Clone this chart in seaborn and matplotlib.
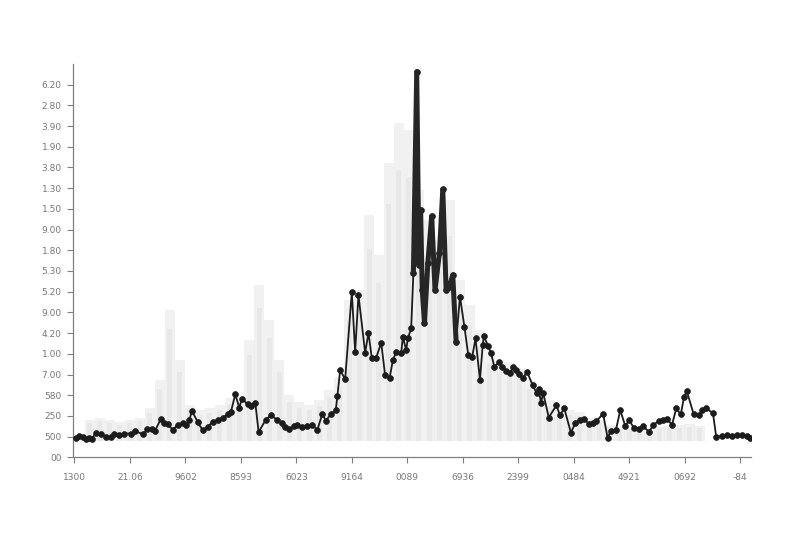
import matplotlib
matplotlib.use("Agg")
import matplotlib.pyplot as plt
import seaborn as sns
import numpy as np
import pandas as pd

# ---- data ----
line_x = [0.03, 0.09, 0.15, 0.21, 0.27, 0.31, 0.39, 0.48, 0.57, 0.66, 0.72, 0.81, 0.90, 1.02, 1.10,
          1.24, 1.31, 1.39, 1.45, 1.56, 1.62, 1.68, 1.77, 1.86, 1.95, 2.01, 2.07, 2.12, 2.22, 2.31,
          2.40, 2.49, 2.58, 2.67, 2.76, 2.82, 2.90, 2.97, 3.02, 3.12, 3.18, 3.26, 3.32, 3.45, 3.54,
          3.65, 3.74, 3.80, 3.86, 3.96, 4.02, 4.11, 4.20, 4.28, 4.38, 4.47, 4.53, 4.63, 4.71, 4.74,
          4.79, 4.88, 5.00, 5.06, 5.12, 5.24, 5.30, 5.36, 5.44, 5.53, 5.60, 5.68, 5.74, 5.80, 5.89,
          5.92, 5.98, 6.01, 6.07, 6.11, 6.17, 6.21, 6.24, 6.27, 6.31, 6.37, 6.44, 6.50, 6.58, 6.64,
          6.70, 6.76, 6.82, 6.88, 6.95, 7.03, 7.10, 7.17, 7.23, 7.31, 7.36, 7.38, 7.46, 7.51, 7.57,
          7.66, 7.71, 7.78, 7.85, 7.90, 7.96, 8.02, 8.08, 8.16, 8.26, 8.33, 8.37, 8.41, 8.45, 8.55,
          8.69, 8.75, 8.83, 8.95, 9.03, 9.11, 9.19, 9.27, 9.34, 9.41, 9.53, 9.61, 9.67, 9.76, 9.84,
          9.93, 10.00, 10.08, 10.17, 10.25, 10.36, 10.43, 10.53, 10.61, 10.69, 10.77, 10.85, 10.93,
          10.99, 11.04, 11.16, 11.26, 11.32, 11.39, 11.51, 11.57, 11.68, 11.77, 11.86, 11.95, 12.04,
          12.13, 12.18]
line_y = [0.95, 1.02, 0.98, 0.90, 0.93, 0.89, 1.19, 1.11, 0.98, 0.98, 1.15, 1.10, 1.15, 1.15, 1.26,
          1.11, 1.35, 1.39, 1.27, 1.87, 1.64, 1.60, 1.34, 1.55, 1.66, 1.55, 1.82, 2.23, 1.71, 1.31,
          1.47, 1.71, 1.79, 1.92, 2.07, 2.19, 3.05, 2.39, 2.84, 2.56, 2.48, 2.63, 1.22, 1.82, 2.03,
          1.82, 1.68, 1.47, 1.35, 1.51, 1.55, 1.47, 1.50, 1.55, 1.34, 2.11, 1.76, 2.11, 2.27, 2.97,
          4.21, 3.77, 7.97, 5.09, 7.84, 5.05, 6.01, 4.80, 4.82, 5.53, 3.97, 3.81, 4.69, 5.09, 5.02,
          5.82, 5.18, 5.74, 6.23, 8.90, 18.63, 9.29, 11.95, 8.08, 6.48, 9.37, 11.66, 8.08, 9.87, 12.95,
          8.08, 8.24, 8.81, 5.58, 7.76, 6.30, 4.93, 4.85, 5.74, 3.75, 5.42, 5.85, 5.37, 5.02, 4.37,
          4.61, 4.37, 4.18, 4.08, 4.34, 4.21, 4.02, 3.81, 4.13, 3.48, 3.11, 3.32, 2.63, 3.11, 1.92,
          2.52, 2.03, 2.36, 1.19, 1.66, 1.82, 1.87, 1.60, 1.66, 1.74, 2.11, 0.95, 1.27, 1.31, 2.27,
          1.51, 1.79, 1.44, 1.39, 1.51, 1.22, 1.55, 1.76, 1.82, 1.87, 1.55, 2.36, 2.07,
          2.92, 3.19, 2.11, 2.03, 2.27, 2.36, 2.14, 0.98, 1.02, 1.06, 1.03, 1.06, 1.06,
          1.02, 0.95]

bar_x = [0.28, 0.46, 0.64, 0.82, 1.00, 1.18, 1.36, 1.54, 1.72, 1.90, 2.08, 2.26, 2.44, 2.62, 2.80,
         2.98, 3.16, 3.33, 3.51, 3.69, 3.87, 4.05, 4.23, 4.41, 4.59, 4.77, 4.95, 5.13, 5.31, 5.49,
         5.67, 5.85, 6.03, 6.21, 6.40, 6.58, 6.76, 6.94, 7.13, 7.31, 7.49, 7.67, 7.85, 8.02, 8.20,
         8.38, 8.56, 8.74, 8.92, 9.11, 9.29, 9.47, 9.65, 9.83, 10.01, 10.19, 10.37, 10.55, 10.73,
         10.91, 11.09, 11.27]
bar_top = [1.81, 1.91, 1.81, 1.71, 1.81, 1.91, 2.39, 3.74, 7.13, 4.71, 2.54, 2.29, 2.39, 2.54, 2.87,
           3.02, 5.68, 8.33, 6.64, 4.71, 3.02, 2.68, 2.54, 2.78, 3.26, 3.84, 7.61, 8.09, 11.71, 9.78,
           14.23, 16.16, 15.81, 12.92, 11.47, 10.51, 12.44, 8.57, 7.37, 6.16, 5.19, 4.71, 4.61, 4.32,
           3.74, 3.16, 2.78, 2.54, 2.29, 2.20, 1.91, 1.81, 1.57, 1.45, 1.40, 1.42, 1.40, 1.45, 1.50,
           1.55, 1.60, 1.50]
bar_bottom = 0.8

x_ticks = list(range(13))
x_labels = ["1300", "21.06", "9602", "8593", "6023", "9164", "0089", "6936", "2399", "0484",
            "4921", "0692", "-84"]
y_ticks = list(range(19))
y_labels = ["00", "500", "250", "580", "7.00", "1.00", "4.20", "9.00", "5.20", "5.30", "1.80",
            "9.00", "1.50", "1.30", "3.80", "1.90", "3.90", "2.80", "6.20"]

spike_start, spike_end = 79, 93  # indices of the heavy central spike segment

# ---- style ----
sns.set_theme(style="ticks")
plt.rcParams["font.family"] = ["DejaVu Sans"]

fig = plt.figure(figsize=(8, 5.33), dpi=100)
ax = fig.add_axes([0.091, 0.142, 0.848, 0.738])

# light grey background bars (two faint layers for a soft look)
heights = [t - bar_bottom for t in bar_top]
ax.bar(bar_x, heights, bottom=bar_bottom, width=0.19, color="#ececec", alpha=0.7,
       linewidth=0, zorder=1)
ax.bar(bar_x, [h * 0.85 for h in heights], bottom=bar_bottom, width=0.09, color="#e2e2e2",
       alpha=0.6, linewidth=0, zorder=1)

df = pd.DataFrame({"x": line_x, "y": line_y})
sns.lineplot(data=df, x="x", y="y", sort=False, estimator=None, ax=ax, color="#1c1c1c",
             linewidth=1.3, marker="o", markersize=4.2, markeredgecolor="#1c1c1c",
             markeredgewidth=0.5, zorder=3)
spike = df.iloc[spike_start:spike_end + 1]
sns.lineplot(data=spike, x="x", y="y", sort=False, estimator=None, ax=ax, color="#262626",
             linewidth=3.6, solid_capstyle="round", solid_joinstyle="round", zorder=4)

ax.set_xlim(-0.03, 12.2)
ax.set_ylim(0, 19.0)
ax.set_xticks(x_ticks)
ax.set_xticklabels(x_labels)
ax.set_yticks(y_ticks)
ax.set_yticklabels(y_labels)
ax.set_xlabel("")
ax.set_ylabel("")

for s in ["top", "right"]:
    ax.spines[s].set_visible(False)
for s in ["left", "bottom"]:
    ax.spines[s].set_color("#808080")
    ax.spines[s].set_linewidth(0.9)
ax.tick_params(axis="both", colors="#808080", length=4, width=0.8, labelsize=6.5,
               labelcolor="#777777")
ax.tick_params(axis="x", pad=7)
ax.tick_params(axis="y", pad=4)

fig.savefig("out.png", dpi=100, facecolor="white")
